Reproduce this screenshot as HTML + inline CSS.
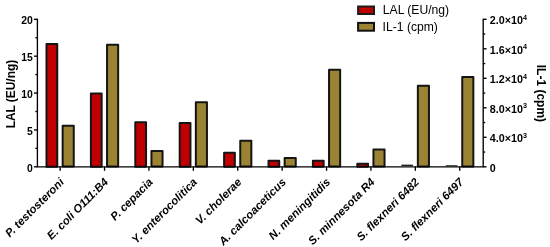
<!DOCTYPE html>
<html><head><meta charset="utf-8"><title>LAL vs IL-1</title>
<style>html,body{margin:0;padding:0;background:#fff;}body{width:550px;height:247px;overflow:hidden;font-family:"Liberation Sans",sans-serif;}svg{display:block}</style>
</head><body>
<svg width="550" height="247" viewBox="0 0 550 247" font-family="Liberation Sans, sans-serif">
<rect width="550" height="247" fill="#fff"/>
<rect x="46.50" y="44.10" width="10.75" height="122.60" fill="#c00000" stroke="#141414" stroke-width="2.0" stroke-linejoin="round"/>
<rect x="62.65" y="125.70" width="11.10" height="40.70" fill="#9a8433" stroke="#141414" stroke-width="2.0" stroke-linejoin="round"/>
<rect x="90.90" y="93.50" width="10.75" height="73.20" fill="#c00000" stroke="#141414" stroke-width="2.0" stroke-linejoin="round"/>
<rect x="107.05" y="44.80" width="11.10" height="121.60" fill="#9a8433" stroke="#141414" stroke-width="2.0" stroke-linejoin="round"/>
<rect x="135.30" y="122.30" width="10.75" height="44.40" fill="#c00000" stroke="#141414" stroke-width="2.0" stroke-linejoin="round"/>
<rect x="151.45" y="150.90" width="11.10" height="15.50" fill="#9a8433" stroke="#141414" stroke-width="2.0" stroke-linejoin="round"/>
<rect x="179.70" y="123.10" width="10.75" height="43.60" fill="#c00000" stroke="#141414" stroke-width="2.0" stroke-linejoin="round"/>
<rect x="195.85" y="102.20" width="11.10" height="64.20" fill="#9a8433" stroke="#141414" stroke-width="2.0" stroke-linejoin="round"/>
<rect x="224.10" y="152.80" width="10.75" height="13.90" fill="#c00000" stroke="#141414" stroke-width="2.0" stroke-linejoin="round"/>
<rect x="240.25" y="140.70" width="11.10" height="25.70" fill="#9a8433" stroke="#141414" stroke-width="2.0" stroke-linejoin="round"/>
<rect x="268.50" y="160.80" width="10.75" height="5.90" fill="#c00000" stroke="#141414" stroke-width="2.0" stroke-linejoin="round"/>
<rect x="284.65" y="158.00" width="11.10" height="8.40" fill="#9a8433" stroke="#141414" stroke-width="2.0" stroke-linejoin="round"/>
<rect x="312.90" y="160.80" width="10.75" height="5.90" fill="#c00000" stroke="#141414" stroke-width="2.0" stroke-linejoin="round"/>
<rect x="329.05" y="69.70" width="11.10" height="96.70" fill="#9a8433" stroke="#141414" stroke-width="2.0" stroke-linejoin="round"/>
<rect x="357.30" y="163.80" width="10.75" height="2.90" fill="#c00000" stroke="#141414" stroke-width="2.0" stroke-linejoin="round"/>
<rect x="373.45" y="149.40" width="11.10" height="17.00" fill="#9a8433" stroke="#141414" stroke-width="2.0" stroke-linejoin="round"/>
<rect x="401.35" y="164.65" width="11.60" height="1.3" fill="#1a1a1a"/>
<rect x="417.85" y="85.80" width="11.10" height="80.60" fill="#9a8433" stroke="#141414" stroke-width="2.0" stroke-linejoin="round"/>
<rect x="445.75" y="165.25" width="11.60" height="1.0" fill="#1a1a1a"/>
<rect x="462.25" y="76.90" width="11.10" height="89.50" fill="#9a8433" stroke="#141414" stroke-width="2.0" stroke-linejoin="round"/>
<g stroke="#000" stroke-width="1.35" fill="none">
<path d="M37.4 18.7 V166.8 H483.2 V18.7"/>
<path d="M37.4 166.80 h-3.4"/>
<path d="M37.4 148.36 h-2"/>
<path d="M37.4 129.93 h-3.4"/>
<path d="M37.4 111.49 h-2"/>
<path d="M37.4 93.05 h-3.4"/>
<path d="M37.4 74.61 h-2"/>
<path d="M37.4 56.18 h-3.4"/>
<path d="M37.4 37.74 h-2"/>
<path d="M37.4 19.30 h-3.4"/>
<path d="M483.2 166.80 h3.4"/>
<path d="M483.2 152.05 h2"/>
<path d="M483.2 137.30 h3.4"/>
<path d="M483.2 122.55 h2"/>
<path d="M483.2 107.80 h3.4"/>
<path d="M483.2 93.05 h2"/>
<path d="M483.2 78.30 h3.4"/>
<path d="M483.2 63.55 h2"/>
<path d="M483.2 48.80 h3.4"/>
<path d="M483.2 34.05 h2"/>
<path d="M483.2 19.30 h3.4"/>
<path d="M60.15 166.8 v4"/>
<path d="M104.55 166.8 v4"/>
<path d="M148.95 166.8 v4"/>
<path d="M193.35 166.8 v4"/>
<path d="M237.75 166.8 v4"/>
<path d="M282.15 166.8 v4"/>
<path d="M326.55 166.8 v4"/>
<path d="M370.95 166.8 v4"/>
<path d="M415.35 166.8 v4"/>
<path d="M459.75 166.8 v4"/>
</g>
<g font-weight="bold" font-size="10.4" fill="#000">
<text x="32.8" y="171.50" text-anchor="end">0</text>
<text x="32.8" y="134.62" text-anchor="end">5</text>
<text x="32.8" y="97.75" text-anchor="end">10</text>
<text x="32.8" y="60.88" text-anchor="end">15</text>
<text x="32.8" y="24.00" text-anchor="end">20</text>
<text x="489.8" y="171.60" font-size="10.75">0</text>
<text x="489.8" y="142.10" font-size="10.75">4.0×10<tspan dy='-4.4' font-size='7.2'>3</tspan></text>
<text x="489.8" y="112.60" font-size="10.75">8.0×10<tspan dy='-4.4' font-size='7.2'>3</tspan></text>
<text x="489.8" y="83.10" font-size="10.75">1.2×10<tspan dy='-4.4' font-size='7.2'>4</tspan></text>
<text x="489.8" y="53.60" font-size="10.75">1.6×10<tspan dy='-4.4' font-size='7.2'>4</tspan></text>
<text x="489.8" y="24.10" font-size="10.75">2.0×10<tspan dy='-4.4' font-size='7.2'>4</tspan></text>
</g>
<text transform="translate(15.1 94.1) rotate(-90)" text-anchor="middle" font-weight="bold" font-size="11.9">LAL (EU/ng)</text>
<text transform="translate(536.6 93.4) rotate(90)" text-anchor="middle" font-weight="bold" font-size="12">IL-1 (cpm)</text>
<g font-weight="bold" font-style="italic" font-size="11.4" fill="#000">
<text transform="translate(64.65 182.80) rotate(-45)" text-anchor="end">P. testosteroni</text>
<text transform="translate(109.05 182.80) rotate(-45)" text-anchor="end">E. coli O111:B4</text>
<text transform="translate(153.45 182.80) rotate(-45)" text-anchor="end">P. cepacia</text>
<text transform="translate(197.85 182.80) rotate(-45)" text-anchor="end">Y. enterocolitica</text>
<text transform="translate(242.25 182.80) rotate(-45)" text-anchor="end">V. cholerae</text>
<text transform="translate(286.65 182.80) rotate(-45)" text-anchor="end">A. calcoaceticus</text>
<text transform="translate(331.05 182.80) rotate(-45)" text-anchor="end">N. meningitidis</text>
<text transform="translate(375.45 182.80) rotate(-45)" text-anchor="end">S. minnesota R4</text>
<text transform="translate(419.85 182.80) rotate(-45)" text-anchor="end">S. flexneri 6482</text>
<text transform="translate(464.25 182.80) rotate(-45)" text-anchor="end">S. flexneri 6497</text>
</g>
<rect x="358.1" y="6.5" width="15.9" height="7.5" fill="#c00000" stroke="#1c1c1c" stroke-width="2"/>
<rect x="358.1" y="22.9" width="15.9" height="7.8" fill="#9a8433" stroke="#111" stroke-width="2"/>
<text x="382.8" y="14.3" font-size="12.15">LAL (EU/ng)</text>
<text x="382.6" y="30.7" font-size="12.15">IL-1 (cpm)</text>
</svg>
</body></html>
